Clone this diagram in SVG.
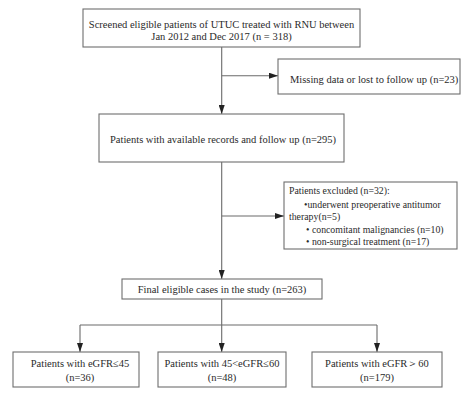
<svg xmlns="http://www.w3.org/2000/svg" width="474" height="400" viewBox="0 0 474 400">
<style>
.box{fill:#fff;stroke:#6e6e6e;stroke-width:1.1}
.ln{fill:none;stroke:#6a6a6a;stroke-width:1.1}
text{font-family:"Liberation Serif","Times New Roman",serif;font-size:10.5px;fill:#2a2a2a}
.c{text-anchor:middle}
.s{font-size:9.8px}
</style>
<defs>
<marker id="ah" markerWidth="9" markerHeight="6" refX="9" refY="3" orient="auto" markerUnits="userSpaceOnUse">
<path d="M0,0 L9,3 L0,6 Z" fill="#222"/>
</marker>
</defs>
<rect width="474" height="400" fill="#fff"/>
<g id="connectors">
<line class="ln" x1="221.7" y1="47" x2="221.7" y2="114" marker-end="url(#ah)"/>
<line class="ln" x1="221.7" y1="75.7" x2="278" y2="75.7" marker-end="url(#ah)"/>
<line class="ln" x1="221.7" y1="162" x2="221.7" y2="279" marker-end="url(#ah)"/>
<line class="ln" x1="221.7" y1="216" x2="284" y2="216" marker-end="url(#ah)"/>
<line class="ln" x1="221.7" y1="299" x2="221.7" y2="325"/>
<line class="ln" x1="80" y1="325" x2="377" y2="325"/>
<line class="ln" x1="80" y1="325" x2="80" y2="352" marker-end="url(#ah)"/>
<line class="ln" x1="221.7" y1="325" x2="221.7" y2="352" marker-end="url(#ah)"/>
<line class="ln" x1="377" y1="325" x2="377" y2="352" marker-end="url(#ah)"/>
</g>
<g id="screened">
<rect class="box" x="83" y="9" width="277" height="38"/>
<text class="c" x="221.5" y="27.5">Screened eligible patients of UTUC treated with RNU between</text>
<text class="c" x="221.5" y="39.5">Jan 2012 and Dec 2017 (n = 318)</text>
</g>
<g id="missing">
<rect class="box" x="278" y="59" width="182" height="35"/>
<text x="290" y="82.5">Missing data or lost to follow up (n=23)</text>
</g>
<g id="available">
<rect class="box" x="99" y="114" width="245" height="48"/>
<text x="110" y="143">Patients with available records and follow up (n=295)</text>
</g>
<g id="excluded">
<rect class="box" x="284" y="182" width="173" height="67"/>
<text class="s" x="289" y="193.5">Patients excluded (n=32):</text>
<text class="s" x="304" y="207.5">•underwent preoperative antitumor</text>
<text class="s" x="289" y="219.5">therapy(n=5)</text>
<text class="s" x="306" y="232.5">• concomitant malignancies (n=10)</text>
<text class="s" x="306" y="245">• non-surgical treatment (n=17)</text>
</g>
<g id="final">
<rect class="box" x="122" y="279" width="200" height="20"/>
<text class="c" x="222" y="292.5">Final eligible cases in the study (n=263)</text>
</g>
<g id="egfr45">
<rect class="box" x="13" y="352" width="126" height="35"/>
<text class="c" x="80" y="367">Patients with eGFR≤45</text>
<text class="c" x="80" y="381">(n=36)</text>
</g>
<g id="egfr4560">
<rect class="box" x="158" y="352" width="128" height="35"/>
<text class="c" x="222" y="367">Patients with 45&lt;eGFR≤60</text>
<text class="c" x="222" y="381">(n=48)</text>
</g>
<g id="egfr60">
<rect class="box" x="312" y="352" width="130" height="35"/>
<text class="c" x="377" y="367">Patients with eGFR＞60</text>
<text class="c" x="377" y="381">(n=179)</text>
</g>
</svg>
